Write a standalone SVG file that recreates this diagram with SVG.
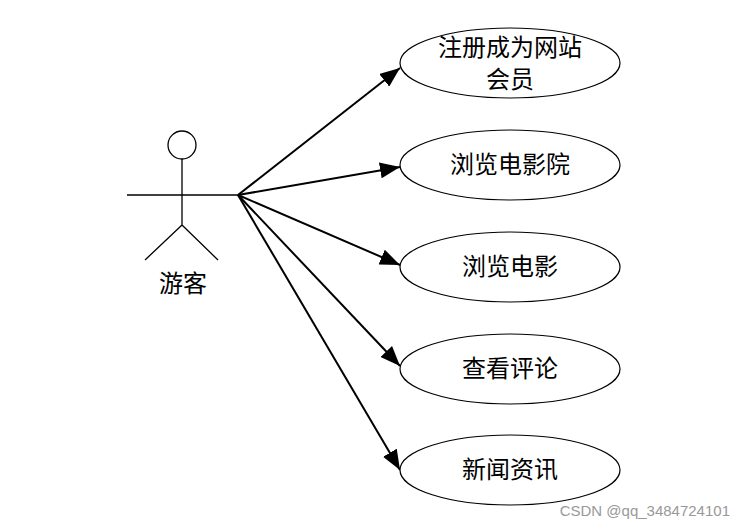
<svg xmlns="http://www.w3.org/2000/svg" width="746" height="529" viewBox="0 0 746 529">
<style>
.s{stroke:#000;stroke-width:1.3;fill:none}
.e{stroke:#000;stroke-width:1.2;fill:#fff}
.t{font-family:"Noto Sans CJK SC","Liberation Serif",serif;font-size:24px;text-anchor:middle;fill:#000}
.c{stroke:#000;stroke-width:2;fill:none;marker-end:url(#a)}
</style>
<defs><marker id="a" viewBox="0 0 10 10" refX="10" refY="5" markerWidth="9" markerHeight="9" markerUnits="userSpaceOnUse" orient="auto"><path d="M0,0L10,5L0,10z" fill="#000"/></marker>
<marker id="a2" viewBox="0 0 10 10" refX="10" refY="5" markerWidth="20" markerHeight="16" markerUnits="userSpaceOnUse" orient="auto" preserveAspectRatio="none"><path d="M0,0L10,5L0,10z" fill="#000"/></marker></defs>
<rect width="746" height="529" fill="#fff"/>
<g id="actor">
<circle class="s" cx="182" cy="145" r="14"/>
<path class="s" d="M182,159V225M127,195H238M182,225L145,260M182,225L218,260"/>
<text class="t" x="183" y="292">游客</text>
</g>
<g id="connectors" style="marker-end:url(#a2)">
<path class="c" style="marker-end:url(#a2)" d="M238,195L400,68"/>
<path class="c" style="marker-end:url(#a2)" d="M238,195L400,167"/>
<path class="c" style="marker-end:url(#a2)" d="M238,195L400,265"/>
<path class="c" style="marker-end:url(#a2)" d="M238,195L400,366"/>
<path class="c" style="marker-end:url(#a2)" d="M238,195L400,470"/>
</g>
<g id="u1"><ellipse class="e" cx="510" cy="63" rx="110" ry="35"/><text class="t" x="510" y="56">注册成为网站</text><text class="t" x="510" y="88">会员</text></g>
<g id="u2"><ellipse class="e" cx="510" cy="165" rx="110" ry="35"/><text class="t" x="510" y="173">浏览电影院</text></g>
<g id="u3"><ellipse class="e" cx="510" cy="267" rx="110" ry="35"/><text class="t" x="510" y="275">浏览电影</text></g>
<g id="u4"><ellipse class="e" cx="510" cy="369" rx="110" ry="35"/><text class="t" x="510" y="377">查看评论</text></g>
<g id="u5"><ellipse class="e" cx="510" cy="470" rx="110" ry="35"/><text class="t" x="510" y="478">新闻资讯</text></g>
<text x="730" y="516" style="font-family:'Liberation Sans',sans-serif;font-size:15px;fill:#999;text-anchor:end">CSDN @qq_3484724101</text>
</svg>
